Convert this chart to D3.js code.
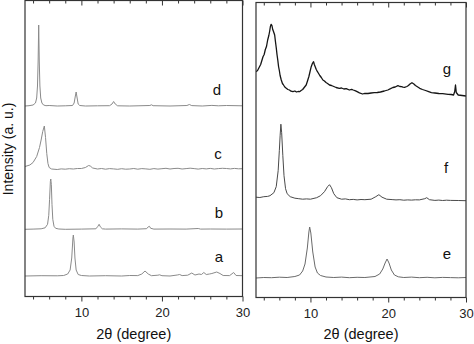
<!DOCTYPE html>
<html><head><meta charset="utf-8">
<script src="https://cdn.jsdelivr.net/npm/d3@7"></script>
<style>body{margin:0;background:#fff}svg{display:block;font-family:"Liberation Sans",Arial,sans-serif}</style>
</head><body><svg id="c" width="474" height="344"></svg>
<script>
// 2theta (degree) ranges and ticks
const xDomain = [3, 30];
const majorTicks = [10, 20, 30];
const minorTicks = [4, 6, 8, 12, 14, 16, 18, 22, 24, 26, 28];
const seriesLabels = ["a", "b", "c", "d", "e", "f", "g"];
// vertical offsets (a.u.) of each stacked pattern
const offsets = {a: 20.5, b: 67.2, c: 127, d: 190.5, e: 19.5, f: 96.8, g: 200};

// XRD patterns: [2theta, intensity above own baseline]
const seriesA = [[3,0],[5,0.3],[7,0.2],[7.8,0.5],[8.3,2],[8.6,6],[8.8,18],[8.95,38],[9.0,41],[9.1,34],[9.2,18],[9.35,6],[9.6,1.5],[10,0.5],[11,0],[13,0.3],[15,0],[16,0.5],[17,0.4],[17.5,2],[17.9,5],[18.3,2],[18.7,0.3],[19.5,0.8],[19.7,1.2],[20,0.3],[21,0],[21.9,1],[22.2,1.5],[22.5,0.4],[23.2,0.8],[23.7,3],[24.1,1],[24.6,2],[24.9,1.5],[25.2,3.5],[25.5,1.5],[25.9,2],[26.2,2.5],[26.8,4],[27.2,2.5],[27.6,0.5],[28.4,0.4],[28.9,3.5],[29.2,0.5],[30,0.3]];
const seriesB = [[3,0],[4,0.2],[5,0.5],[5.5,1.5],[5.8,5],[5.95,14],[6.05,30],[6.15,48],[6.2,50.3],[6.27,45],[6.35,25],[6.45,10],[6.6,3],[6.8,1],[7.2,0.3],[8,0],[10,0.2],[11.8,0.5],[12.05,3],[12.2,5],[12.35,2.5],[12.6,0.5],[13,0.2],[15,0.4],[17,0.2],[18.1,0.6],[18.3,2.5],[18.45,3],[18.6,1],[19,0.2],[21,0.3],[23,0.2],[24.5,0.8],[24.8,0.2],[26,0.3],[28,0.2],[30,0.3]];
const seriesC = [[3,3],[3.6,4.5],[4.0,7],[4.45,13],[4.8,22],[5.0,29.5],[5.2,38],[5.4,43.5],[5.55,32],[5.7,16],[5.85,6],[6.0,2],[6.3,0.5],[7,0],[7.5,0.6],[8,0.3],[8.5,0.8],[9,0.5],[9.5,1],[10,1],[10.5,2],[10.9,4],[11.1,3.5],[11.4,1.5],[12,0.5],[12.5,1],[13,0.3],[13.5,0.9],[14,0.6],[14.5,0.2],[15,0.8],[15.5,0.3],[16,0.5],[16.5,1],[17,0.3],[17.5,0.9],[18,0.6],[18.5,0.2],[19,0.9],[19.5,0.4],[20,0.8],[20.5,1.2],[21,0.5],[21.5,1],[22,1.2],[22.5,0.5],[23,0.9],[23.5,1.3],[24,0.9],[24.5,0.4],[25,1],[25.5,0.6],[26,1.1],[26.5,0.5],[27,0.9],[27.5,1.2],[28,1],[28.5,0.6],[29,1.1],[29.5,0.7],[30,0.8]];
const seriesD = [[3.0,0],[3.5,0.3],[4.0,1],[4.3,3],[4.45,8],[4.55,20],[4.63,45],[4.7,81],[4.77,45],[4.85,20],[4.95,8],[5.1,3],[5.3,1],[5.6,0.3],[6,0.5],[7,0],[8,0.2],[8.9,0.5],[9.1,3],[9.25,10],[9.35,14],[9.45,9],[9.6,2],[9.8,0.5],[10.5,0],[12,0.2],[13.5,0.3],[13.8,2],[14.0,4.5],[14.2,2],[14.5,0.2],[16,0],[18.5,0.5],[18.7,1.2],[18.9,0.3],[21,0],[23.1,0.5],[23.4,1.5],[23.7,0.4],[25,0],[26.2,0.6],[27,0.2],[28,0.5],[30,0.2]];
const seriesE = [[3,0],[4,0.5],[5,0.3],[6,0.8],[7,0.5],[8,1.5],[8.6,3],[9.0,7],[9.3,14],[9.6,30],[9.8,46],[9.9,51],[10.05,45],[10.3,26],[10.6,11],[10.9,5],[11.3,2.5],[12,1],[13,0.5],[14,0.9],[15,0.3],[16,0.7],[17,0.5],[18.3,1.5],[18.9,4],[19.3,9],[19.6,15],[19.85,19],[20.1,15],[20.4,8],[20.8,3],[21.3,1.2],[22,0.5],[23,0.9],[24,0.3],[25,0.7],[26,0.2],[27,0.6],[28,0.4],[29,0.2],[30,0.5]];
const seriesF = [[3,3.5],[3.5,3.2],[4,4],[4.5,4.3],[4.8,5],[5.3,8],[5.6,14],[5.85,30],[6.0,50],[6.1,65],[6.2,76.5],[6.3,68],[6.45,45],[6.6,25],[6.8,12],[7.0,7],[7.4,4],[8,2.5],[8.5,2],[9,1.5],[9.5,1.8],[10,1.5],[10.8,3],[11.3,5],[11.8,9],[12.2,14],[12.45,16],[12.7,13],[13.0,7],[13.4,3],[14,1.5],[14.5,1.8],[15,1],[15.5,1.3],[16,0.8],[16.5,1.2],[17,1],[17.8,1.5],[18.4,4],[18.8,6],[19.2,3.5],[19.8,1.5],[20.5,1.1],[21,0.8],[21.5,1],[22,0.5],[22.5,0.8],[23,0.6],[23.5,0.9],[24,0.8],[24.7,2],[24.95,3],[25.3,1],[26,0.3],[26.5,0.6],[27,0.2],[27.5,0.5],[28,0.3],[29,0.2],[30,0]];
const seriesG = [[3.0,25.8],[3.2,27],[3.4,30],[3.6,33],[3.9,40.8],[4.05,43],[4.2,48],[4.35,51],[4.5,57.5],[4.65,62],[4.75,66],[4.85,71],[4.95,73.2],[5.05,72],[5.15,68],[5.25,66],[5.4,62.5],[5.5,56],[5.6,50],[5.7,43],[5.8,37.5],[5.9,31],[6.0,27],[6.1,22],[6.25,17.5],[6.4,14],[6.5,13],[6.7,10.5],[6.9,9.2],[7.1,8],[7.3,7.5],[7.5,6.3],[7.75,5.8],[8.0,6.5],[8.2,5.5],[8.4,6],[8.6,5.8],[8.8,7],[9.0,8],[9.2,10],[9.45,12.5],[9.6,16],[9.8,21],[9.95,26],[10.1,30.8],[10.25,34],[10.4,35.8],[10.5,33],[10.6,31],[10.75,28],[10.9,25.8],[11.05,24],[11.2,22],[11.4,20],[11.6,17.5],[11.8,16.5],[12.0,15],[12.2,14],[12.45,12.5],[12.7,12],[13.0,11],[13.3,10],[13.7,9.2],[14.0,9.5],[14.3,8.5],[14.6,8.8],[15.0,7.5],[15.3,8.2],[15.5,7.5],[15.8,6.6],[16.0,5.8],[16.3,4.6],[16.7,3.5],[17.0,4.2],[17.4,4],[17.8,4.5],[18.2,4.8],[18.6,5],[19.0,5.5],[19.5,6.5],[19.95,7.5],[20.3,8.8],[20.6,10],[20.9,10.5],[21.25,11.8],[21.5,11],[21.7,10.8],[21.9,10.3],[22.1,10.2],[22.4,11],[22.6,12],[22.8,13.5],[23.05,14.8],[23.3,13.5],[23.5,12],[23.8,10.5],[24.05,9.2],[24.4,8],[24.8,7],[25.2,5.8],[25.55,4.8],[26.0,4.5],[26.5,4],[27.0,3.8],[27.7,3.2],[28.1,3],[28.4,2.5],[28.55,6],[28.65,12.5],[28.75,5],[29.0,2.5],[29.5,2],[30,1.5]];

const svg = d3.select("#c");
const panels = [
  {x0: 25, x1: 242.5, y0: 0.5, y1: 296.5, series: [["a", seriesA, "#8a8a8a"], ["b", seriesB, "#8a8a8a"], ["c", seriesC, "#8a8a8a"], ["d", seriesD, "#8a8a8a"]],
   labels: {a: [219, 256], b: [219, 212], c: [218, 153], d: [217, 89]}},
  {x0: 256, x1: 466, y0: 2.5, y1: 297.5, series: [["e", seriesE, "#6a6a6a"], ["f", seriesF, "#4a4a4a"], ["g", seriesG, "#151515"]],
   labels: {e: [447, 253], f: [446, 167], g: [447, 68]}}
];

panels.forEach(p => {
  const x = d3.scaleLinear().domain(xDomain).range([p.x0, p.x1]);
  const y = d3.scaleLinear().domain([0, p.y1 - p.y0]).range([p.y1, p.y0]);
  const g = svg.append("g");
  const clipId = "clip" + p.x0;
  svg.append("clipPath").attr("id", clipId).append("rect")
    .attr("x", p.x0).attr("y", p.y0).attr("width", p.x1 - p.x0).attr("height", p.y1 - p.y0);
  const line = d3.line().x(d => x(d[0])).y(d => y(d[1]));
  p.series.forEach(([name, data, col]) => {
    const off = offsets[name];
    g.append("path").datum(data.map(d => [d[0], d[1] + off]))
      .attr("clip-path", `url(#${clipId})`)
      .attr("d", line).attr("fill", "none").attr("stroke", col)
      .attr("stroke-width", name === "g" ? 1.3 : 1).attr("stroke-linejoin", "round");
    const lp = p.labels[name];
    g.append("text").attr("x", lp[0]).attr("y", lp[1]).attr("text-anchor", "middle")
      .attr("dominant-baseline", "central").attr("font-size", 15).attr("fill", "#111").text(name);
  });
  // bottom axis: major + minor ticks, outward
  const axB = g.append("g").attr("transform", `translate(0,${p.y1})`)
    .call(d3.axisBottom(x).tickValues(majorTicks).tickSize(5).tickPadding(6).tickFormat(d3.format("d")));
  axB.select(".domain").remove();
  axB.selectAll("text").attr("font-size", 13).attr("fill", "#222").attr("font-family", "Liberation Sans, Arial, sans-serif");
  axB.selectAll("line").attr("stroke", "#333");
  const axBm = g.append("g").attr("transform", `translate(0,${p.y1})`)
    .call(d3.axisBottom(x).tickValues(minorTicks).tickSize(3).tickFormat(""));
  axBm.select(".domain").remove();
  axBm.selectAll("line").attr("stroke", "#333");
  // top mirror ticks, inward
  const axT = g.append("g").attr("transform", `translate(0,${p.y0})`)
    .call(d3.axisTop(x).tickValues(majorTicks).tickSize(-5).tickFormat(""));
  axT.select(".domain").remove();
  axT.selectAll("line").attr("stroke", "#333");
  const axTm = g.append("g").attr("transform", `translate(0,${p.y0})`)
    .call(d3.axisTop(x).tickValues(minorTicks).tickSize(-3).tickFormat(""));
  axTm.select(".domain").remove();
  axTm.selectAll("line").attr("stroke", "#333");
  // frame
  g.append("rect").attr("x", p.x0).attr("y", p.y0).attr("width", p.x1 - p.x0).attr("height", p.y1 - p.y0)
    .attr("fill", "none").attr("stroke", "#333").attr("stroke-width", 1.2);
  // x title
  g.append("text").attr("x", (p.x0 + p.x1) / 2).attr("y", 334).attr("text-anchor", "middle")
    .attr("dominant-baseline", "central").attr("font-size", 14.5).attr("fill", "#111").text("2θ (degree)");
});

svg.append("text").attr("transform", "translate(8,149) rotate(-90)").attr("text-anchor", "middle")
  .attr("dominant-baseline", "central").attr("font-size", 14).attr("fill", "#111").text("Intensity (a. u.)");
</script></body></html>
